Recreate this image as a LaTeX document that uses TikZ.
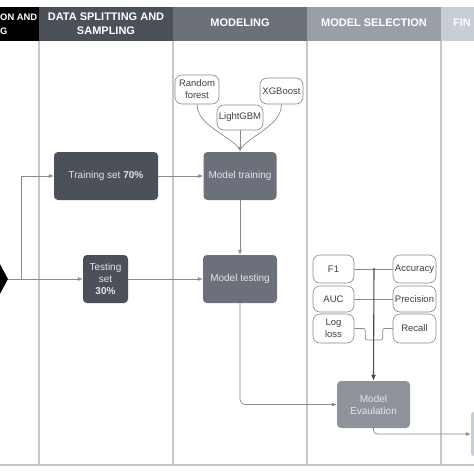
\documentclass[tikz,border=0pt]{standalone}
\usepackage{fontspec}
\setmainfont{Liberation Sans}
\usetikzlibrary{arrows.meta,shapes.geometric}
\definecolor{hA}{HTML}{000000}
\definecolor{hB}{HTML}{4B5059}
\definecolor{hC}{HTML}{6C7079}
\definecolor{hD}{HTML}{9A9FA7}
\definecolor{hE}{HTML}{C9CED6}
\definecolor{bTrain}{HTML}{4B5059}
\definecolor{bModel}{HTML}{6C707A}
\definecolor{bEval}{HTML}{8E939C}
\definecolor{sepc}{HTML}{C8C8C8}
\definecolor{linec}{HTML}{8A8A8A}
\definecolor{darkline}{HTML}{4A4A4A}
\begin{document}
\begin{tikzpicture}[x=1pt,y=-1pt,
  hdr/.style={font=\bfseries\fontsize{11}{14}\selectfont, text=white, align=center, inner sep=0},
  proc/.style={rounded corners=4pt, text=white!90!black, font=\fontsize{10}{12}\selectfont, align=center, inner sep=0},
  metric/.style={draw=linec, fill=white, rounded corners=7pt, font=\fontsize{9.5}{12}\selectfont, text=black!75, align=center, inner sep=0, line width=0.6pt},
  conn/.style={draw=linec, line width=0.7pt},
  arr/.style={conn, -{Latex[length=5pt,width=4pt]}},
  darr/.style={draw=darkline, line width=1.1pt, -{Latex[length=6pt,width=5pt]}},
  sepline/.style={draw=sepc, line width=1.2pt},
]
\useasboundingbox (0,0) rectangle (474,474);
\fill[white] (0,0) rectangle (474,474);
% header band
\fill[hA] (0,7) rectangle (39,41);
\fill[hB] (39,7) rectangle (173,41);
\fill[hC] (173,7) rectangle (307,41);
\fill[hD] (307,7) rectangle (441,41);
\fill[hE] (441,7) rectangle (474,41);
\node[hdr, font=\bfseries\fontsize{9.4}{14}\selectfont, align=left, anchor=west] (h1) at (0,24) {ON AND\\G};
\node[hdr] (h2) at (106,24) {DATA SPLITTING AND\\SAMPLING};
\node[hdr] (h3) at (240,23) {MODELING};
\node[hdr] (h4) at (374,23) {MODEL SELECTION};
\node[hdr, text=white!92!hE, anchor=west] (h5) at (453,23) {FIN};
% separators
\draw[sepline] (39,41) -- (39,465);
\draw[sepline] (173,41) -- (173,465);
\draw[sepline] (307,41) -- (307,465);
\draw[sepline] (441,41) -- (441,465);
\draw[draw=sepc, line width=1.8pt] (0,465) -- (474,465);
% start diamond
\node[diamond, fill=black, minimum width=16pt, minimum height=30pt, inner sep=0] (dec) at (0,279) {};
% process boxes
\node[proc, fill=bTrain, minimum width=104pt, minimum height=48pt] (train) at (106,176) {Training set \textbf{70\%}};
\node[proc, fill=bTrain, minimum width=45pt, minimum height=48pt] (test) at (105.5,279) {Testing\\set\\\textbf{30\%}};
\node[proc, fill=bModel, minimum width=73pt, minimum height=48pt] (mtrain) at (240,176) {Model training};
\node[proc, fill=bModel, minimum width=74pt, minimum height=48pt] (mtest) at (240,279) {Model testing};
\node[proc, fill=bEval, minimum width=73pt, minimum height=47pt] (meval) at (373.5,404.5) {Model\\Evaulation};
\node[fill=hE, rounded corners=3pt, minimum width=12pt, minimum height=44pt, inner sep=0] (fin) at (477,434) {};
% algorithms
\node[metric, minimum width=44pt, minimum height=29pt] (rf) at (197,89.5) {Random\\forest};
\node[metric, minimum width=43pt, minimum height=26pt] (xgb) at (281.5,91) {XGBoost};
\node[metric, minimum width=46pt, minimum height=25pt] (lgbm) at (240,117.5) {LightGBM};
% metrics
\node[metric, minimum width=41pt, minimum height=28pt] (f1) at (333.5,269) {F1};
\node[metric, minimum width=41pt, minimum height=26pt] (auc) at (333.5,299) {AUC};
\node[metric, minimum width=41pt, minimum height=29pt] (logl) at (333.5,328.5) {Log\\loss};
\node[metric, minimum width=43pt, minimum height=28pt] (acc) at (414.5,269) {Accuracy};
\node[metric, minimum width=43pt, minimum height=26pt] (prec) at (414.5,299) {Precision};
\node[metric, minimum width=43pt, minimum height=29pt] (rec) at (414.5,328.5) {Recall};
% connectors
\coordinate (split) at (21,279);
\draw[conn] (dec.east) -- (split);
\draw[arr] (split) |- (train.west);
\draw[arr] (split) -- (test.west);
\draw[arr] (train.east) -- (mtrain.west);
\draw[arr] (test.east) -- (mtest.west);
\draw[arr] (mtrain.south) -- (mtest.north);
\draw[arr, rounded corners=5pt] (mtest.south) |- (meval.west);
\draw[arr, rounded corners=4pt] (meval.south) |- (fin.west);
\coordinate (top) at (240,150);
\draw[conn] (rf.south) .. controls +(0,22) and +(-8,-14) .. (top);
\draw[conn] (xgb.south) .. controls +(0,22) and +(8,-14) .. (top);
\draw[arr] (lgbm.south) -- (mtrain.north);
\draw[conn] (f1.east) -- (acc.west);
\draw[conn] (auc.east) -- (prec.west);
\coordinate (hub) at (374,268);
\coordinate (lb) at (374,340);
\draw[conn, rounded corners=2pt] (logl.east) -- ++(11,0) -- ++(0,11.5) -- (lb);
\draw[conn, rounded corners=2pt] (rec.west) -- ++(-10,0) -- ++(0,11.5) -- (lb);
\draw[darr] (hub) -- (meval.north);
\end{tikzpicture}
\end{document}
